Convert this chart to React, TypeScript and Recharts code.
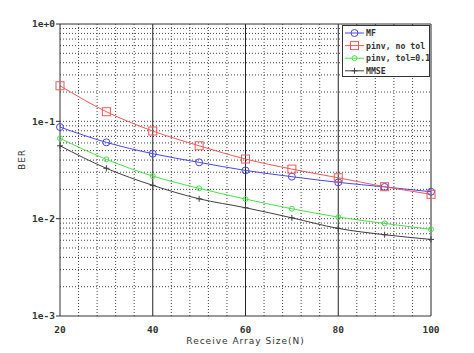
import { LineChart, Line, XAxis, YAxis, ReferenceLine } from 'recharts';

const sizes = [20, 30, 40, 50, 60, 70, 80, 90, 100];
const mf = [0.0873, 0.0608, 0.0465, 0.0379, 0.0313, 0.027, 0.0236, 0.0212, 0.0189];
const pinvNoTol = [0.232, 0.1255, 0.0795, 0.0561, 0.041, 0.0323, 0.0263, 0.0213, 0.0178];
const pinvTol = [0.0669, 0.0407, 0.0274, 0.0205, 0.0159, 0.01264, 0.01038, 0.00894, 0.00776];
const mmse = [0.0561, 0.0329, 0.022, 0.016, 0.01295, 0.0102, 0.00794, 0.00684, 0.00612];

const yTicks = [0.001, 0.01, 0.1, 1];
const yTickLabels = ['1e-3', '1e-2', '1e-1', '1e+0'];
const xTicks = [20, 40, 60, 80, 100];
const xMinor = [24, 28, 32, 36, 44, 48, 52, 56, 64, 68, 72, 76, 84, 88, 92, 96];
const yMinor = [0.001, 0.01, 0.1].flatMap((d) => [2, 3, 4, 5, 6, 7, 8, 9].map((k) => k * d)).concat([0.01, 0.1]);

const data = sizes.map((n, i) => ({
  n,
  mf: mf[i],
  pinvNoTol: pinvNoTol[i],
  pinvTol: pinvTol[i],
  mmse: mmse[i],
}));

const series = [
  { key: 'mf', name: 'MF', color: '#4848f0', marker: 'circle' },
  { key: 'pinvNoTol', name: 'pinv, no tol', color: '#f05a5a', marker: 'square' },
  { key: 'pinvTol', name: 'pinv, tol=0.1', color: '#4be04b', marker: 'smallcircle' },
  { key: 'mmse', name: 'MMSE', color: '#404040', marker: 'plus' },
];

const tickFont = { fontFamily: 'DejaVu Sans Mono', fontSize: 9.5, fontWeight: 'bold', fill: '#333' };

const Marker = ({ type, color, cx, cy }: any) => {
  if (cx == null || cy == null) return null;
  if (type === 'square')
    return <rect x={cx - 4} y={cy - 4} width={8} height={8} fill="none" stroke={color} strokeWidth={1} />;
  if (type === 'circle') return <circle cx={cx} cy={cy} r={3.5} fill="none" stroke={color} strokeWidth={1} />;
  if (type === 'smallcircle') return <circle cx={cx} cy={cy} r={2.5} fill="none" stroke={color} strokeWidth={1} />;
  return (
    <g stroke={color} strokeWidth={1}>
      <line x1={cx - 3} y1={cy} x2={cx + 3} y2={cy} />
      <line x1={cx} y1={cy - 3} x2={cx} y2={cy + 3} />
    </g>
  );
};

const LegendBox = () => (
  <svg width={89} height={53} style={{ position: 'absolute', left: 342, top: 25 }}>
    <rect x={0.5} y={0.5} width={87} height={51} fill="#fff" stroke="#333" strokeWidth={1} />
    {series.map((s, i) => {
      const y = 8 + i * 12.6;
      return (
        <g key={s.key}>
          <line x1={3} y1={y} x2={22} y2={y} stroke={s.color} strokeWidth={1} />
          <Marker type={s.marker} color={s.color} cx={12.5} cy={y} />
          <text x={24} y={y + 3} fontFamily="DejaVu Sans Mono" fontWeight="bold" fontSize={8.2} fill="#333">
            {s.name}
          </text>
        </g>
      );
    })}
  </svg>
);

const App = () => (
  <div style={{ position: 'absolute', left: 0, top: 0, width: 474, height: 353, background: '#fff' }}>
    <LineChart width={474} height={353} data={data} margin={{ top: 24, right: 43, left: 0, bottom: 0 }}>
      {xMinor.map((x) => (
        <ReferenceLine key={'vx' + x} x={x} stroke="#444" strokeDasharray="1 2" />
      ))}
      {yMinor.map((y) => (
        <ReferenceLine key={'hy' + y} y={y} stroke="#444" strokeDasharray="1 2" />
      ))}
      <XAxis
        dataKey="n"
        type="number"
        domain={[20, 100]}
        ticks={xTicks}
        height={37}
        tick={tickFont}
        tickLine={false}
        tickMargin={4}
        axisLine={{ stroke: '#333' }}
        label={{ value: 'Receive Array Size(N)', position: 'insideBottom', offset: 9, style: { fontFamily: 'DejaVu Sans', fontSize: 9, letterSpacing: 1, fill: '#333' } }}
      />
      <YAxis
        scale="log"
        domain={[0.001, 1]}
        ticks={yTicks}
        allowDataOverflow
        width={60}
        tick={tickFont}
        tickFormatter={(v: number) => yTickLabels[yTicks.indexOf(v)] ?? ''}
        tickLine={{ stroke: '#333' }}
        tickSize={4}
        tickMargin={1}
        axisLine={{ stroke: '#333' }}
        label={{ value: 'BER', angle: -90, position: 'insideLeft', offset: 22, style: { fontFamily: 'DejaVu Sans', fontSize: 9, letterSpacing: 1, fill: '#333' } }}
      />
      {[40, 60, 80, 100].map((x) => (
        <ReferenceLine key={x} x={x} stroke="#222" strokeWidth={1} />
      ))}
      <ReferenceLine y={1} stroke="#333" strokeWidth={1} />
      {series.map((s) => (
        <Line
          key={s.key}
          dataKey={s.key}
          name={s.name}
          stroke={s.color}
          strokeWidth={1}
          type="monotone"
          isAnimationActive={false}
          dot={(p: any) => <Marker key={p.index} type={s.marker} color={s.color} cx={p.cx} cy={p.cy} />}
          activeDot={false}
        />
      ))}
    </LineChart>
    <LegendBox />
  </div>
);

export default App;
